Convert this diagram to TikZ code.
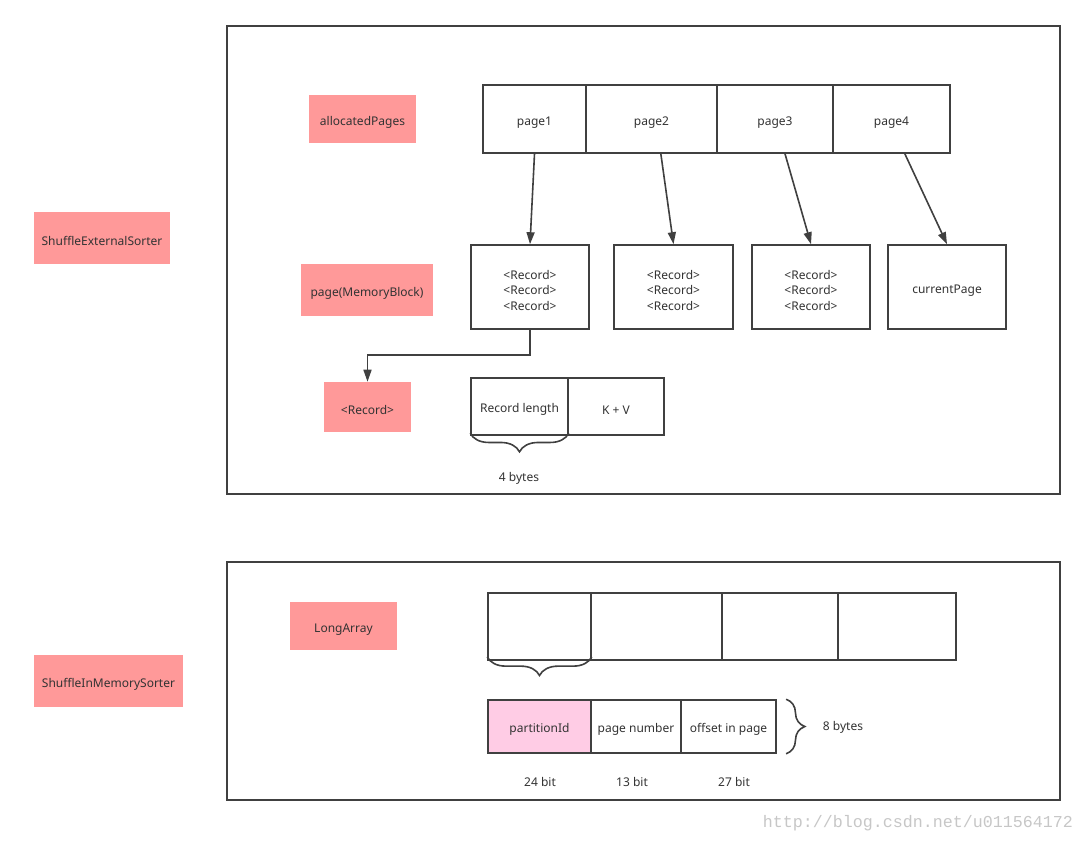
\documentclass[tikz,border=0pt]{standalone}
\usepackage{fontspec}
\setmainfont{Noto Sans}
\setmonofont{Liberation Mono}
\usetikzlibrary{arrows.meta,fit,decorations.pathreplacing}
\definecolor{salmon}{RGB}{255,153,153}
\definecolor{pidpink}{RGB}{255,204,229}
\definecolor{linegray}{RGB}{64,64,64}
\definecolor{textgray}{RGB}{51,51,51}
\tikzset{
  labelbox/.style={fill=salmon, inner sep=0pt, label={[align=center, yshift=-2.5pt]center:#1}},
  cellbox/.style={draw=linegray, line width=1.2pt, inner sep=0pt, label={[align=center, yshift=-2.5pt]center:#1}},
  arr/.style={draw=linegray, line width=1.2pt, -{Triangle[length=9pt,width=6pt]}},
  bracepath/.style={draw=linegray, line width=1.2pt, decorate, decoration={brace, amplitude=14pt}}
}
\begin{document}
\begin{tikzpicture}[x=0.75pt,y=0.75pt,yscale=-1,xscale=1,
    every node/.style={font=\fontsize{9}{11.5}\selectfont, text=textgray}]
    \useasboundingbox[fill=white] (0,0) rectangle (1085,843);

    %Shape: Rectangle (frames)
    \draw [linegray, line width=1.2pt] (227,26) rectangle (1060,494);
    \draw [linegray, line width=1.2pt] (227,562) rectangle (1060,800);

    % Label boxes
    \node (ext) [labelbox=ShuffleExternalSorter, fit={(34,212) (170,264)}] {};
    \node (inmem) [labelbox=ShuffleInMemorySorter, fit={(34,655) (183,707)}] {};
    \node (alloc) [labelbox=allocatedPages, fit={(309,95) (416,143)}] {};
    \node (mblock) [labelbox=page(MemoryBlock), fit={(301,264) (433,316)}] {};
    \node (rec) [labelbox=<Record>, fit={(324,382) (411,432)}] {};
    \node (larr) [labelbox=LongArray, fit={(290,602) (397,650)}] {};

    % allocatedPages array
    \node (p1) [cellbox=page1, fit={(483,85) (586,153)}] {};
    \node (p2) [cellbox=page2, fit={(586,85) (717,153)}] {};
    \node (p3) [cellbox=page3, fit={(717,85) (833,153)}] {};
    \node (p4) [cellbox=page4, fit={(833,85) (950,153)}] {};

    % pages
    \node (r1) [cellbox={<Record>\\<Record>\\<Record>}, fit={(471,245) (589,329)}] {};
    \node (r2) [cellbox={<Record>\\<Record>\\<Record>}, fit={(614,245) (733,329)}] {};
    \node (r3) [cellbox={<Record>\\<Record>\\<Record>}, fit={(752,245) (870,329)}] {};
    \node (r4) [cellbox=currentPage, fit={(888,245) (1006,329)}] {};

    %Straight Lines
    \draw [arr] (p1.south) -- (r1.north);
    \draw [arr] ([xshift=7pt]p2.south) -- (r2.north);
    \draw [arr] ([xshift=7.5pt]p3.south) -- (r3.north);
    \draw [arr] ([xshift=10pt]p4.south) -- (r4.north);
    \draw [arr] (r1.south) -- ++(0,25) -| (rec.north);

    % Record layout
    \node (rlen) [cellbox=Record length, fit={(471,378) (568,435)}] {};
    \node (kv) [cellbox=K + V, fit={(568,378) (664,435)}] {};
    \draw [bracepath, decoration={mirror}] ([yshift=-2pt]rlen.south west) -- ([yshift=-2pt]rlen.south east);
    \node (fourb) at (519,478) {4 bytes};

    % LongArray
    \node (l1) [cellbox={}, fit={(488,593) (591,660)}] {};
    \node (l2) [cellbox={}, fit={(591,593) (722,660)}] {};
    \node (l3) [cellbox={}, fit={(722,593) (838,660)}] {};
    \node (l4) [cellbox={}, fit={(838,593) (956,660)}] {};
    \draw [bracepath, decoration={mirror}] ([yshift=-3pt]l1.south west) -- ([yshift=-3pt]l1.south east);

    % pointer layout
    \node (pid) [cellbox=partitionId, fill=pidpink, fit={(488,700) (591,753)}] {};
    \node (pnum) [cellbox=page number, fit={(591,700) (681,753)}] {};
    \node (poff) [cellbox=offset in page, fit={(681,700) (776,753)}] {};
    \draw [bracepath] ([xshift=7pt]poff.north east) -- ([xshift=7pt]poff.south east);
    \node (eightb) at (843,727) {8 bytes};

    % Text Node
    \node (b24) at (540,782) {24 bit};
    \node (b13) at (632,782) {13 bit};
    \node (b27) at (734,782) {27 bit};

    % watermark
    \node (wm) at (918,823) [font=\ttfamily\fontsize{12.5}{14}\selectfont, text=black!22] {http://blog.csdn.net/u011564172};

\end{tikzpicture}
\end{document}
